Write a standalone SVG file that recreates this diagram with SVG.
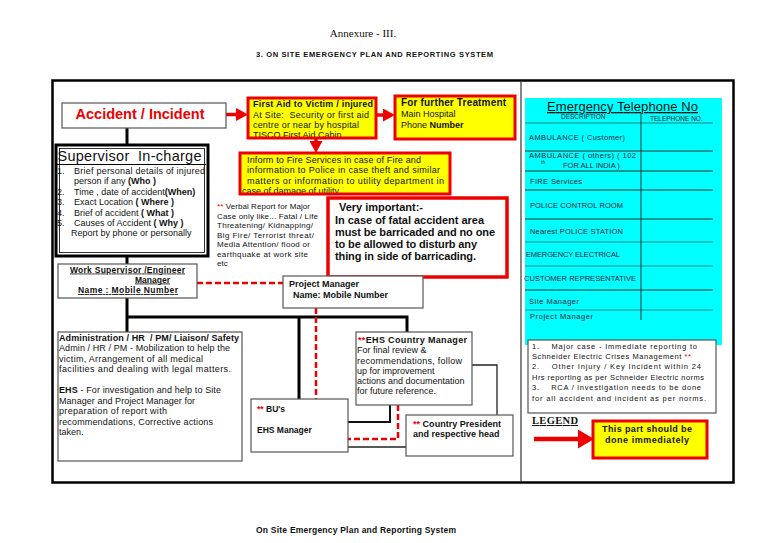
<svg xmlns="http://www.w3.org/2000/svg" width="768" height="543" viewBox="0 0 768 543">
<defs>
<style>
text{font-family:"Liberation Sans",Arial,sans-serif;fill:#111;font-size:9px}
.b{font-weight:bold}
.r{fill:#e00}
.u{text-decoration:underline}
.box{fill:#fff;stroke:#555;stroke-width:1.2}
.ybox{fill:#ff0;stroke:#e00;stroke-width:3}
.blk{stroke:#000;stroke-width:3;fill:none}
.thin{stroke:#222;stroke-width:1.3;fill:none}
.mid{stroke:#111;stroke-width:2;fill:none}
.rdash{stroke:#e00;stroke-width:2.5;stroke-dasharray:6 3;fill:none}
.rarr{stroke:#e00;stroke-width:3.5;fill:none}
.tl{stroke:#333;stroke-width:1}
.tab{font-size:7.5px;fill:#1a1a3a}
.s8{font-size:8px}
.s7{font-size:7.5px}
</style>
<marker id="ah" markerUnits="userSpaceOnUse" markerWidth="12" markerHeight="13" refX="6" refY="6.5" orient="auto" viewBox="0 0 12 13"><path d="M0,0 L12,6.5 L0,13z" fill="#e00"/></marker>
<marker id="ahL" markerUnits="userSpaceOnUse" markerWidth="16" markerHeight="19" refX="8" refY="9.5" orient="auto" viewBox="0 0 16 19"><path d="M0,0 L16,9.5 L0,19z" fill="#e00"/></marker>
<clipPath id="cFA"><rect x="248" y="98" width="128" height="40"/></clipPath>
<clipPath id="cIn"><rect x="240" y="153" width="210" height="41"/></clipPath>
</defs>
<rect width="768" height="543" fill="#fff"/>

<g id="header">
<text x="363" y="37" text-anchor="middle" style="font-family:'Liberation Serif','Times New Roman',serif;font-size:11px">Annexure - III.</text>
<text x="256" y="57" class="b" style="font-size:7.5px" textLength="237">3. ON SITE EMERGENCY PLAN AND REPORTING SYSTEM</text>
</g>

<g id="frame">
<rect x="52.5" y="80.5" width="681" height="402" fill="none" stroke="#000" stroke-width="2.5"/>
<line x1="521" y1="81" x2="521" y2="482" stroke="#333" stroke-width="1.2"/>
</g>

<g id="connectors">
<line class="rarr" x1="226" y1="114.5" x2="242" y2="114.5" marker-end="url(#ah)"/>
<line class="rarr" x1="376" y1="115" x2="389" y2="115" marker-end="url(#ah)"/>
<line class="rarr" x1="316" y1="138" x2="316" y2="147" marker-end="url(#ah)"/>
<line class="blk" x1="127" y1="128" x2="127" y2="145"/>
<line class="blk" x1="127" y1="256" x2="127" y2="264"/>
<line class="blk" x1="127" y1="298" x2="127" y2="332"/>
<polyline class="blk" points="127,317 407,317 407,332"/>
<line class="blk" x1="299" y1="317" x2="299" y2="399"/>
<line class="rdash" x1="197" y1="283" x2="283" y2="283"/>
<line class="rdash" x1="316" y1="308" x2="316" y2="399"/>
<polyline class="thin" points="472,365 497,365 497,415"/>
<polyline class="mid" points="390,405 390,422 348,422"/>
<polyline class="rdash" points="398,405 398,439 348,439"/>
<line class="thin" x1="348" y1="447" x2="406" y2="447"/>
</g>

<g id="accident">
<rect class="box" x="62" y="103" width="164" height="25"/>
<text x="140" y="118.5" text-anchor="middle" class="b r" style="font-size:14.5px" textLength="129">Accident / Incident</text>
</g>

<g id="first-aid">
<rect x="248" y="98" width="128" height="40" fill="#ff0"/>
<g clip-path="url(#cFA)">
<text x="253" y="107" class="b" textLength="120">First Aid to Victim / injured</text>
<text x="253" y="118" xml:space="preserve" textLength="116">At Site:  Security or first aid</text>
<text x="253" y="128" textLength="106">centre or near by hospital</text>
<text x="253" y="138">TISCO First Aid Cabin</text>
</g>
<rect x="248" y="98" width="128" height="40" fill="none" stroke="#e00" stroke-width="3"/>
</g>

<g id="further-treatment">
<rect class="ybox" x="395" y="96" width="120" height="43"/>
<text x="401" y="106" class="b" style="font-size:10px" textLength="105">For further Treatment</text>
<text x="401" y="117">Main Hospital</text>
<text x="401" y="128">Phone <tspan class="b">Number</tspan></text>
</g>

<g id="inform">
<rect x="240" y="153" width="210" height="41" fill="#ff0"/>
<g clip-path="url(#cIn)">
<text x="247" y="163" textLength="174">Inform to Fire Services in case of Fire and</text>
<text x="247" y="173" textLength="193">information to Police in case theft and similar</text>
<text x="247" y="184" textLength="197">matters or information to utility department in</text>
<text x="242" y="194">case of damage of utility</text>
</g>
<rect x="240" y="153" width="210" height="41" fill="none" stroke="#e00" stroke-width="3"/>
</g>

<g id="supervisor">
<rect x="56" y="145" width="152" height="111" fill="#fff" stroke="#000" stroke-width="3"/>
<rect x="59.5" y="148.5" width="145" height="104" fill="none" stroke="#000" stroke-width="0.8"/>
<text x="57.5" y="161" style="font-size:14.5px" xml:space="preserve" textLength="144">Supervisor  In-charge</text>
<line x1="57" y1="164.5" x2="206" y2="164.5" stroke="#000" stroke-width="1"/>
<text x="57" y="174">1.</text><text x="74" y="174" textLength="131">Brief personal details of injured</text>
<text x="74" y="184">person if any <tspan class="b">(Who )</tspan></text>
<text x="57" y="194.5">2.</text><text x="74" y="194.5">Time , date of accident<tspan class="b">(When)</tspan></text>
<text x="57" y="205">3.</text><text x="74" y="205">Exact Location <tspan class="b">( Where )</tspan></text>
<text x="57" y="215.5">4.</text><text x="74" y="215.5">Brief of accident <tspan class="b">( What )</tspan></text>
<text x="57" y="225.5">5.</text><text x="74" y="225.5">Causes of Accident <tspan class="b">( Why )</tspan></text>
<text x="71" y="235.5">Report by phone or personally</text>
</g>

<g id="verbal-report" class="s8">
<text x="217" y="209" class="s8" textLength="93"><tspan class="r">**</tspan> Verbal Report for Major</text>
<text x="217" y="218.5" class="s8" textLength="101">Case only like... Fatal / Life</text>
<text x="217" y="228" class="s8" textLength="96">Threatening/ Kidnapping/</text>
<text x="217" y="237.5" class="s8" textLength="97">Big Fire/ Terrorist threat/</text>
<text x="217" y="247" class="s8" textLength="93">Media Attention/ flood or</text>
<text x="217" y="256.5" class="s8" textLength="91">earthquake at work site</text>
<text x="217" y="266" class="s8">etc</text>
</g>

<g id="very-important">
<rect x="328" y="198" width="179" height="79" fill="#fff" stroke="#e00" stroke-width="3.5"/>
<text x="339" y="211" class="b" style="font-size:11px" textLength="84">Very important:-</text>
<text x="335" y="223.5" class="b" style="font-size:11px" textLength="149">In case of fatal accident area</text>
<text x="335" y="235.5" class="b" style="font-size:11px" textLength="160">must be barricaded and no one</text>
<text x="335" y="247.5" class="b" style="font-size:11px" textLength="142">to be allowed to disturb any</text>
<text x="335" y="260" class="b" style="font-size:11px" textLength="141">thing in side of barricading.</text>
</g>

<g id="work-supervisor">
<rect class="box" x="58" y="264" width="139" height="34"/>
<text x="70" y="272.5" class="b u" style="font-size:8.5px" textLength="115">Work Supervisor /Engineer</text>
<text x="135" y="282.5" class="b u" style="font-size:8.5px">Manager</text>
<text x="78" y="293" class="b u" style="font-size:8.5px" textLength="100">Name : Mobile Number</text>
</g>

<g id="project-manager">
<rect class="box" x="283" y="276" width="140" height="32"/>
<text x="289" y="287" class="b">Project Manager</text>
<text x="293" y="297.5" class="b">Name: Mobile Number</text>
</g>

<g id="administration">
<rect class="box" x="58" y="332" width="184" height="129"/>
<text x="59" y="340.5" class="b" xml:space="preserve" textLength="180">Administration / HR  / PM/ Liaison/ Safety</text>
<text x="59" y="351" textLength="171">Admin / HR / PM - Mobilization to help the</text>
<text x="59" y="361.5" textLength="144">victim, Arrangement of all medical</text>
<text x="59" y="372" textLength="172">facilities and dealing with legal matters.</text>
<text x="59" y="393" textLength="162"><tspan class="b">EHS</tspan> - For investigation and help to Site</text>
<text x="59" y="403.5" textLength="136">Manager and Project Manager for</text>
<text x="59" y="414" textLength="108">preparation of report with</text>
<text x="59" y="424.5" textLength="154">recommendations, Corrective actions</text>
<text x="59" y="435">taken.</text>
</g>

<g id="bu-ehs">
<rect class="box" x="251" y="399" width="97" height="53"/>
<text x="257" y="411.5" class="b" style="font-size:8.5px"><tspan class="r">**</tspan> BU's</text>
<text x="257" y="432.5" class="b" style="font-size:8.5px">EHS Manager</text>
</g>

<g id="ehs-country">
<rect class="box" x="356" y="332" width="116" height="73"/>
<text x="358" y="342.5" class="b" textLength="109"><tspan class="r">**</tspan>EHS Country Manager</text>
<text x="357" y="353">For final review &amp;</text>
<text x="357" y="363.5" textLength="105">recommendations, follow</text>
<text x="357" y="373.5">up for improvement</text>
<text x="357" y="383.5">actions and documentation</text>
<text x="357" y="393.5">for future reference.</text>
</g>

<g id="country-president">
<rect class="box" x="406" y="415" width="107" height="41"/>
<text x="413" y="426.5" class="b" textLength="88"><tspan class="r">**</tspan> Country President</text>
<text x="413" y="436.5" class="b">and respective head</text>
</g>

<g id="telephone-table">
<rect x="525" y="98" width="197" height="247" fill="#0ff"/>
<text x="547" y="111" style="font-size:13px" class="u" textLength="151">Emergency Telephone No</text>
<text x="561" y="119" style="font-size:6.5px;fill:#1a1a3a">DESCRIPTION</text>
<text x="650" y="121" style="font-size:6.5px;fill:#1a1a3a">TELEPHONE NO.</text>
<line class="tl" x1="641" y1="113" x2="641" y2="320"/>
<line class="tl" x1="525" y1="123" x2="713" y2="123" stroke-opacity="0.6"/>
<line class="tl" x1="525" y1="151" x2="713" y2="151"/>
<line class="tl" x1="525" y1="171" x2="713" y2="171"/>
<line class="tl" x1="525" y1="190" x2="713" y2="190"/>
<line class="tl" x1="525" y1="219" x2="713" y2="219"/>
<line class="tl" x1="525" y1="242" x2="713" y2="242" stroke-opacity="0.6"/>
<line class="tl" x1="525" y1="266" x2="713" y2="266" stroke-opacity="0.6"/>
<line class="tl" x1="525" y1="290" x2="713" y2="290"/>
<line class="tl" x1="525" y1="310" x2="713" y2="310" stroke-opacity="0.6"/>
<text x="529" y="140" class="tab" textLength="96">AMBULANCE ( Customer)</text>
<text x="529" y="158" class="tab" textLength="107">AMBULANCE ( others) ( 102</text>
<text x="541" y="164" style="font-size:5px;fill:#1a1a3a">th</text>
<text x="563" y="168" class="tab">FOR ALL INDIA )</text>
<text x="530" y="184" class="tab" textLength="52">FIRE Services</text>
<text x="530" y="208" class="tab" textLength="93">POLICE CONTROL ROOM</text>
<text x="530" y="234" class="tab" textLength="93">Nearest POLICE STATION</text>
<text x="526" y="257" class="tab" textLength="94">EMERGENCY ELECTRICAL</text>
<text x="524" y="281" class="tab" textLength="112">CUSTOMER REPRESENTATIVE</text>
<text x="529" y="303.5" class="tab" textLength="50">Site Manager</text>
<text x="530" y="319" class="tab" textLength="63">Project Manager</text>
</g>

<g id="notes">
<rect class="box" x="528" y="340" width="188" height="73"/>
<text x="532" y="348.5" class="s7" xml:space="preserve" textLength="165">1.    Major case - Immediate reporting to</text>
<text x="532" y="358.5" class="s7" textLength="159">Schneider Electric Crises Management <tspan class="r">**</tspan></text>
<text x="532" y="369" class="s7" xml:space="preserve" textLength="169">2.    Other Injury / Key Incident within 24</text>
<text x="532" y="379.5" class="s7" textLength="172">Hrs reporting as per Schneider Electric norms</text>
<text x="532" y="390" class="s7" xml:space="preserve" textLength="169">3.    RCA / investigation needs to be done</text>
<text x="532" y="400.5" class="s7" textLength="174">for all accident and incident as per norms.</text>
</g>

<g id="legend">
<text x="532" y="424" class="b u" style="font-family:'Liberation Serif','Times New Roman',serif;font-size:10.5px" textLength="46">LEGEND</text>
<line x1="534" y1="439" x2="586" y2="439" stroke="#e00" stroke-width="4.5" marker-end="url(#ahL)"/>
<rect class="ybox" x="593" y="421" width="114" height="37"/>
<text x="647" y="431.5" class="b" text-anchor="middle" textLength="90">This part should be</text>
<text x="647" y="442.5" class="b" text-anchor="middle" textLength="84">done immediately</text>
</g>

<g id="footer">
<text x="256" y="533" class="b" style="font-size:8.5px" textLength="200">On Site Emergency Plan and Reporting System</text>
</g>
</svg>
